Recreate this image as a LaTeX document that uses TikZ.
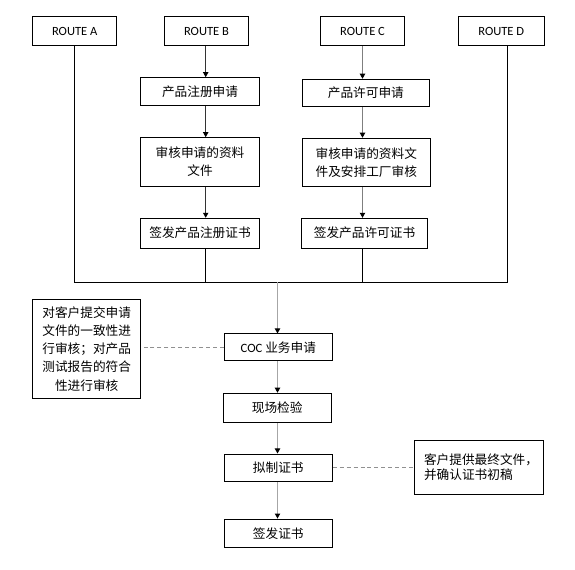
\documentclass[tikz,border=0pt]{standalone}
\usepackage{fontspec}
\setmainfont{Noto Sans CJK SC}
\newfontfamily\rt{Carlito}
\usetikzlibrary{arrows.meta}
\definecolor{cB}{HTML}{333333}
\definecolor{cC}{HTML}{7F7F7F}
\definecolor{cM}{HTML}{A6A6A6}
\definecolor{cD}{HTML}{909090}
\begin{document}
\begin{tikzpicture}[x=0.75pt,y=-0.75pt,
  box/.style={draw=black, line width=0.75pt, inner sep=0pt, align=center,
    font=\fontsize{9.5}{13.3}\selectfont},
  rbox/.style={box, minimum height=21.45pt, font=\rt\fontsize{9.4}{11}\selectfont},
  link/.style={draw=#1, line width=0.75pt, -{Triangle[width=4pt,length=3.8pt,color=black]}},
  plainline/.style={draw=black, line width=0.75pt},
  dashline/.style={draw=cD, line width=0.75pt, dash pattern=on 3pt off 2.2pt}
]
\useasboundingbox (0,0) rectangle (575,570);

% routes
\node[rbox, minimum width=63pt]   (rA) at (74.7,31)  {ROUTE A};
\node[rbox, minimum width=63.3pt] (rB) at (206.5,31) {ROUTE B};
\node[rbox, minimum width=62.7pt] (rC) at (362.5,31) {ROUTE C};
\node[rbox, minimum width=64.3pt] (rD) at (501.2,31) {ROUTE D};

% route B chain
\node[box, minimum width=88.95pt, minimum height=21pt]   (b1) at (200,91.7)  {产品注册申请};
\node[box, minimum width=88.95pt, minimum height=36.45pt] (b2) at (200,162)  {审核申请的资料\\文件};
\node[box, minimum width=88.95pt, minimum height=22.3pt] (b3) at (200,233.2)  {签发产品注册证书};

% route C chain
\node[box, minimum width=94.7pt, minimum height=20.55pt] (c1) at (365.9,93)   {产品许可申请};
\node[box, minimum width=96pt,   minimum height=36pt]    (c2) at (366.3,162.3) {审核申请的资料文\\件及安排工厂审核};
\node[box, minimum width=94.8pt, minimum height=22.3pt]  (c3) at (364.5,233.2) {签发产品许可证书};

% main chain
\node[box, minimum width=81pt, minimum height=20.25pt] (coc) at (278.3,347.5) {{\rt COC} 业务申请};
\node[box, minimum width=80.8pt, minimum height=21.75pt] (xc) at (277.2,407.8) {现场检验};
\node[box, minimum width=81pt, minimum height=20.8pt] (nz) at (278.3,467.9) {拟制证书};
\node[box, minimum width=81pt, minimum height=21.2pt] (qf) at (278.3,533.2) {签发证书};

% notes
\node[box, minimum width=81pt, minimum height=74.25pt,
      font=\fontsize{9.5}{13.7}\selectfont] (ln) at (86.7,348.8)
  {对客户提交申请\\文件的一致性进\\行审核；对产品\\测试报告的符合\\性进行审核};
\node[box, minimum width=96.75pt, minimum height=40.8pt] (rn) at (478.8,467.5) {};
\node[anchor=west, align=left, inner sep=0pt, font=\fontsize{9.5}{11.5}\selectfont]
  (rnt) at ([xshift=7.5pt]rn.west) {客户提供最终文件，\\并确认证书初稿};

% coordinates
\coordinate (mj) at (277.5,282.3);
\coordinate (dD) at ([xshift=4.6pt]rD.south);
\coordinate (bx) at ([xshift=-0.6pt]rB.south);
\coordinate (cx) at (rC.south);

% route B links
\draw[link=cB] (bx) -- (bx |- b1.north);
\draw[link=cB] (b1.south -| bx) -- (b2.north -| bx);
\draw[link=cB] (b2.south -| bx) -- (b3.north -| bx);
% route C links
\draw[link=cC] (cx) -- (cx |- c1.north);
\draw[link=cC] (c1.south -| cx) -- (c2.north -| cx);
\draw[link=cC] (c2.south -| cx) -- (c3.north -| cx);

% merge lines
\draw[plainline] (rA.south) |- (mj);
\draw[plainline] (dD) |- (mj);
\draw[plainline] (b3.south -| bx) -- (bx |- mj);
\draw[plainline] (c3.south -| cx) -- (cx |- mj);

% main chain links
\draw[link=cM] (mj) -- (mj |- coc.north);
\draw[link=cM] (coc.south -| mj) -- (xc.north -| mj);
\draw[link=cM] (xc.south -| mj) -- (nz.north -| mj);
\draw[link=cM] (nz.south -| mj) -- (qf.north -| mj);

% dashed note connectors
\draw[dashline] (coc.west) -- (coc.west -| ln.east);
\draw[dashline] (nz.east) -- (nz.east -| rn.west);
\end{tikzpicture}
\end{document}
